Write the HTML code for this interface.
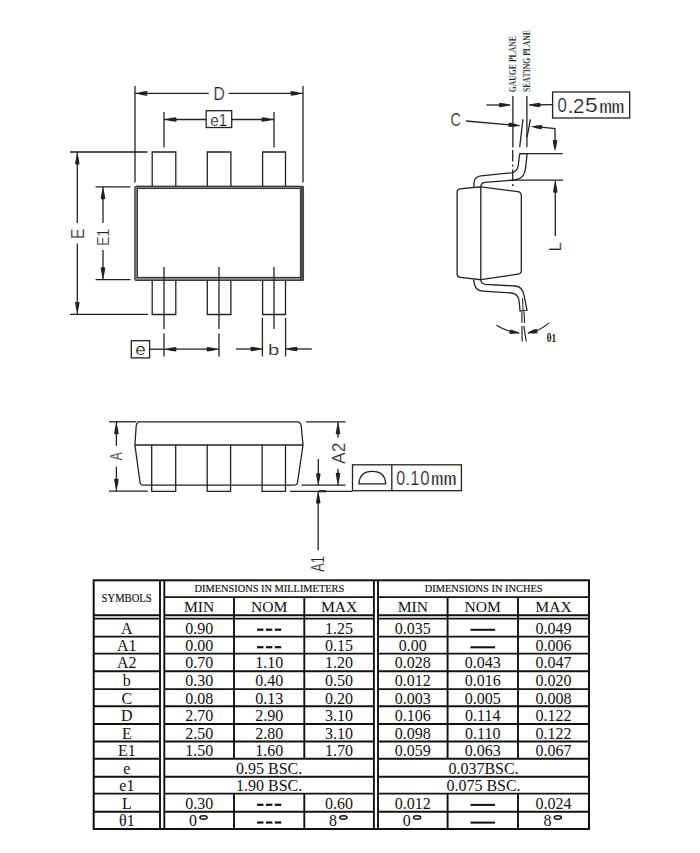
<!DOCTYPE html>
<html><head><meta charset="utf-8"><style>
html,body{margin:0;padding:0;background:#fff;width:700px;height:853px;overflow:hidden}
svg{display:block}
</style></head><body>
<svg width="700" height="853" viewBox="0 0 700 853">
<rect width="700" height="853" fill="#fff"/>
<path d="M136.2,185.8 H302.2 Q304.0,185.8 304.0,187.6 V279.2 Q304.0,281.0 302.2,281.0 H136.2 Q134.4,281.0 134.4,279.2 V187.6 Q134.4,185.8 136.2,185.8 Z M137.9,189.0 V276.9 H300.1 V189.0 Z" fill="#8c8c8c" fill-rule="evenodd"/>
<rect x="134.9" y="186.4" width="168.6" height="94.0" fill="none" stroke="#3a3a3a" stroke-width="1.1" rx="1.5"/>
<rect x="137.4" y="188.5" width="163.0" height="88.9" fill="none" stroke="#333" stroke-width="1.1" rx="0"/>
<rect x="300.0" y="186.4" width="3.9" height="94.0" fill="#484848"/>
<polyline points="152.2,186 152.2,152 175.8,152 175.8,186" fill="none" stroke="#222" stroke-width="1.3"/>
<polyline points="152.2,280.4 152.2,314.5 175.8,314.5 175.8,280.4" fill="none" stroke="#222" stroke-width="1.3"/>
<polyline points="207.3,186 207.3,152 230.9,152 230.9,186" fill="none" stroke="#222" stroke-width="1.3"/>
<polyline points="207.3,280.4 207.3,314.5 230.9,314.5 230.9,280.4" fill="none" stroke="#222" stroke-width="1.3"/>
<polyline points="262.6,186 262.6,152 285.5,152 285.5,186" fill="none" stroke="#222" stroke-width="1.3"/>
<polyline points="262.6,280.4 262.6,314.5 285.5,314.5 285.5,280.4" fill="none" stroke="#222" stroke-width="1.3"/>
<line x1="164" y1="267" x2="164" y2="329" stroke="#222" stroke-width="1.3" />
<line x1="219" y1="267" x2="219" y2="329" stroke="#222" stroke-width="1.3" />
<line x1="274" y1="267" x2="274" y2="329" stroke="#222" stroke-width="1.3" />
<line x1="164" y1="112" x2="164" y2="147.5" stroke="#222" stroke-width="1.3" />
<line x1="274" y1="112" x2="274" y2="147.5" stroke="#222" stroke-width="1.3" />
<line x1="164" y1="333.5" x2="164" y2="356.5" stroke="#222" stroke-width="1.3" />
<line x1="219" y1="333.5" x2="219" y2="356.5" stroke="#222" stroke-width="1.3" />
<line x1="135" y1="86" x2="135" y2="182.5" stroke="#222" stroke-width="1.3" />
<line x1="303" y1="86" x2="303" y2="182.5" stroke="#222" stroke-width="1.3" />
<line x1="135" y1="93.4" x2="208.8" y2="93.4" stroke="#222" stroke-width="1.3" />
<line x1="228.7" y1="93.4" x2="303" y2="93.4" stroke="#222" stroke-width="1.3" />
<path d="M136.00,93.40 Q141.40,91.68 147.04,91.10 Q148.24,93.40 147.04,95.70 Q141.40,95.12 136.00,93.40 Z" fill="#222"/>
<path d="M302.00,93.40 Q296.60,95.12 290.96,95.70 Q289.76,93.40 290.96,91.10 Q296.60,91.68 302.00,93.40 Z" fill="#222"/>
<text x="0" y="0" font-family="Liberation Sans" font-size="100.0" font-weight="normal" fill="#222" transform="matrix(0.15702,0,0,0.17442,213.412,99.600)" stroke="#fff" stroke-width="1.328" style="font-kerning:none">D</text>
<line x1="164" y1="119.5" x2="206.2" y2="119.5" stroke="#222" stroke-width="1.3" />
<line x1="231.7" y1="119.5" x2="274" y2="119.5" stroke="#222" stroke-width="1.3" />
<path d="M165.00,119.50 Q170.40,117.78 176.04,117.20 Q177.24,119.50 176.04,121.80 Q170.40,121.22 165.00,119.50 Z" fill="#222"/>
<path d="M273.00,119.50 Q267.60,121.22 261.96,121.80 Q260.76,119.50 261.96,117.20 Q267.60,117.78 273.00,119.50 Z" fill="#222"/>
<rect x="206.2" y="110.7" width="25.5" height="16.8" fill="none" stroke="#222" stroke-width="1.3" rx="0"/>
<text x="0" y="0" font-family="Liberation Sans" font-size="100.0" font-weight="normal" fill="#222" transform="matrix(0.15181,0,0,0.17198,210.255,125.532)" stroke="#fff" stroke-width="1.359" style="font-kerning:none">e1</text>
<line x1="70" y1="152" x2="147.5" y2="152" stroke="#222" stroke-width="1.3" />
<line x1="70" y1="314.3" x2="148" y2="314.3" stroke="#222" stroke-width="1.3" />
<line x1="77.3" y1="152" x2="77.3" y2="223" stroke="#222" stroke-width="1.3" />
<line x1="77.3" y1="243.5" x2="77.3" y2="314.3" stroke="#222" stroke-width="1.3" />
<path d="M77.30,153.00 Q79.02,158.40 79.60,164.04 Q77.30,165.24 75.00,164.04 Q75.58,158.40 77.30,153.00 Z" fill="#222"/>
<path d="M77.30,313.30 Q75.58,307.90 75.00,302.26 Q77.30,301.06 79.60,302.26 Q79.02,307.90 77.30,313.30 Z" fill="#222"/>
<text x="0" y="0" font-family="Liberation Sans" font-size="100.0" font-weight="normal" fill="#222" transform="matrix(0,-0.15867,0.18024,0,83.500,239.002)" stroke="#fff" stroke-width="1.298" style="font-kerning:none">E</text>
<line x1="95.6" y1="186.8" x2="130.4" y2="186.8" stroke="#222" stroke-width="1.3" />
<line x1="95.6" y1="279.7" x2="130.4" y2="279.7" stroke="#222" stroke-width="1.3" />
<line x1="103" y1="186.8" x2="103" y2="223" stroke="#222" stroke-width="1.3" />
<line x1="103" y1="250" x2="103" y2="279.7" stroke="#222" stroke-width="1.3" />
<path d="M103.00,187.80 Q104.72,193.20 105.30,198.84 Q103.00,200.04 100.70,198.84 Q101.28,193.20 103.00,187.80 Z" fill="#222"/>
<path d="M103.00,278.70 Q101.28,273.30 100.70,267.66 Q103.00,266.46 105.30,267.66 Q104.72,273.30 103.00,278.70 Z" fill="#222"/>
<text x="0" y="0" font-family="Liberation Sans" font-size="100.0" font-weight="normal" fill="#222" transform="matrix(0,-0.14099,0.17151,0,109.200,246.057)" stroke="#fff" stroke-width="1.408" style="font-kerning:none">E1</text>
<rect x="131.3" y="340.7" width="18.3" height="17.2" fill="none" stroke="#222" stroke-width="1.3" rx="0"/>
<text x="0" y="0" font-family="Liberation Sans" font-size="100.0" font-weight="normal" fill="#222" transform="matrix(0.18967,0,0,0.15698,135.294,354.847)" stroke="#fff" stroke-width="1.269" style="font-kerning:none">e</text>
<line x1="149.6" y1="349.2" x2="164" y2="349.2" stroke="#222" stroke-width="1.3" />
<line x1="164" y1="349.2" x2="219" y2="349.2" stroke="#222" stroke-width="1.3" />
<path d="M165.00,349.20 Q170.40,347.47 176.04,346.90 Q177.24,349.20 176.04,351.50 Q170.40,350.93 165.00,349.20 Z" fill="#222"/>
<path d="M218.00,349.20 Q212.60,350.93 206.96,351.50 Q205.76,349.20 206.96,346.90 Q212.60,347.47 218.00,349.20 Z" fill="#222"/>
<line x1="262.4" y1="318" x2="262.4" y2="356.4" stroke="#222" stroke-width="1.3" />
<line x1="285.6" y1="318" x2="285.6" y2="356.4" stroke="#222" stroke-width="1.3" />
<line x1="236" y1="349" x2="262" y2="349" stroke="#222" stroke-width="1.3" />
<line x1="286" y1="349" x2="311.8" y2="349" stroke="#222" stroke-width="1.3" />
<path d="M262.00,349.00 Q256.60,350.73 250.96,351.30 Q249.76,349.00 250.96,346.70 Q256.60,347.27 262.00,349.00 Z" fill="#222"/>
<path d="M286.00,349.00 Q291.40,347.27 297.04,346.70 Q298.24,349.00 297.04,351.30 Q291.40,350.73 286.00,349.00 Z" fill="#222"/>
<text x="0" y="0" font-family="Liberation Sans" font-size="100.0" font-weight="normal" fill="#222" transform="matrix(0.20235,0,0,0.14843,267.996,354.855)" stroke="#fff" stroke-width="1.254" style="font-kerning:none">b</text>
<text x="0" y="0" font-family="Liberation Serif" font-size="100.0" font-weight="bold" fill="#222" transform="matrix(0,-0.07702,0.09377,0,515.608,92.276)" stroke="#fff" stroke-width="1.405" style="font-kerning:none">GAUGE PLANE</text>
<text x="0" y="0" font-family="Liberation Serif" font-size="100.0" font-weight="bold" fill="#222" transform="matrix(0,-0.07616,0.09377,0,529.908,92.005)" stroke="#fff" stroke-width="1.412" style="font-kerning:none">SEATING PLANE</text>
<line x1="512.9" y1="96" x2="512.9" y2="147.5" stroke="#222" stroke-width="1.3" />
<line x1="512.7" y1="150" x2="512.7" y2="189" stroke="#222" stroke-width="1.3" stroke-dasharray="11.5 3 2 3"/>
<line x1="526.9" y1="96" x2="526.9" y2="147.3" stroke="#222" stroke-width="1.3" />
<line x1="486.4" y1="105" x2="510" y2="105" stroke="#222" stroke-width="1.3" />
<path d="M510.50,105.00 Q505.10,106.72 499.46,107.30 Q498.26,105.00 499.46,102.70 Q505.10,103.28 510.50,105.00 Z" fill="#222"/>
<line x1="529.3" y1="105" x2="552.6" y2="104.6" stroke="#222" stroke-width="1.3" />
<path d="M529.00,105.00 Q534.40,103.28 540.04,102.70 Q541.24,105.00 540.04,107.30 Q534.40,106.72 529.00,105.00 Z" fill="#222"/>
<rect x="552.6" y="92" width="77.1" height="26" fill="none" stroke="#222" stroke-width="1.3" rx="0"/>
<text x="0" y="0" font-family="Liberation Sans" font-size="100.0" font-weight="normal" fill="#222" transform="matrix(0.16735,0,0,0.20339,557.446,112.301)" stroke="#fff" stroke-width="1.187" style="font-kerning:none">0</text>
<text x="0" y="0" font-family="Liberation Sans" font-size="100.0" font-weight="normal" fill="#222" transform="matrix(0.22055,0,0,0.19638,567.386,112.500)" stroke="#fff" stroke-width="1.055" style="font-kerning:none">.</text>
<text x="0" y="0" font-family="Liberation Sans" font-size="100.0" font-weight="normal" fill="#222" transform="matrix(0.20414,0,0,0.20623,572.973,112.500)" stroke="#fff" stroke-width="1.072" style="font-kerning:none">2</text>
<text x="0" y="0" font-family="Liberation Sans" font-size="100.0" font-weight="normal" fill="#222" transform="matrix(0.22779,0,0,0.20638,584.988,112.298)" stroke="#fff" stroke-width="1.013" style="font-kerning:none">5</text>
<text x="0" y="0" font-family="Liberation Mono" font-size="100.0" font-weight="normal" fill="#222" transform="matrix(0.21579,0,0,0.18213,599.257,112.500)" stroke="#fff" stroke-width="0.905" style="font-kerning:none">m</text>
<text x="0" y="0" font-family="Liberation Mono" font-size="100.0" font-weight="normal" fill="#222" transform="matrix(0.21579,0,0,0.18213,611.557,112.500)" stroke="#fff" stroke-width="0.905" style="font-kerning:none">m</text>
<text x="0" y="0" font-family="Liberation Sans" font-size="100.0" font-weight="normal" fill="#222" transform="matrix(0.14369,0,0,0.17655,450.570,126.228)" stroke="#fff" stroke-width="1.374" style="font-kerning:none">C</text>
<line x1="466" y1="121" x2="519.5" y2="125.7" stroke="#222" stroke-width="1.3" />
<path d="M520.00,125.70 Q514.47,126.94 508.80,127.01 Q507.81,124.61 509.21,122.43 Q514.77,123.50 520.00,125.70 Z" fill="#222"/>
<line x1="522.9" y1="119.3" x2="519.7" y2="147.1" stroke="#222" stroke-width="1.3" />
<line x1="530.4" y1="119.3" x2="527.1" y2="137" stroke="#222" stroke-width="1.3" />
<polyline points="541,127.1 555,128.6 555,141" fill="none" stroke="#222" stroke-width="1.3"/>
<path d="M530.70,126.40 Q536.21,125.06 541.87,124.88 Q542.91,127.25 541.55,129.46 Q535.97,128.50 530.70,126.40 Z" fill="#222"/>
<path d="M555.00,151.40 Q553.27,146.00 552.70,140.36 Q555.00,139.16 557.30,140.36 Q556.73,146.00 555.00,151.40 Z" fill="#222"/>
<line x1="519.3" y1="153.6" x2="562.5" y2="153.6" stroke="#222" stroke-width="1.3" />
<line x1="514.3" y1="180.2" x2="563" y2="180.2" stroke="#222" stroke-width="1.3" />
<line x1="555.3" y1="181" x2="555.3" y2="236.1" stroke="#222" stroke-width="1.3" />
<path d="M555.30,181.20 Q557.02,186.60 557.60,192.24 Q555.30,193.44 553.00,192.24 Q553.57,186.60 555.30,181.20 Z" fill="#222"/>
<text x="0" y="0" font-family="Liberation Sans" font-size="100.0" font-weight="normal" fill="#222" transform="matrix(0,-0.17464,0.17006,0,561.000,251.533)" stroke="#fff" stroke-width="1.276" style="font-kerning:none">L</text>
<path d="M460,188.8 L480.8,186.8 L480.8,279.7 L460.2,277.3 Q457.1,277 457.1,274 L457.1,192 Q457.1,189.1 460,188.8" fill="none" stroke="#222" stroke-width="1.3"/>
<path d="M480.8,186.8 L518,191.6 Q521.3,192.3 521.3,195.5 L521.3,270.5 Q521.3,273.7 518,274.2 L480.8,279.7" fill="none" stroke="#222" stroke-width="1.3"/>
<path d="M473.8,187 L474.1,182 Q475,176.3 481,175.8 L511.5,172.8 Q517.5,172 518.3,165 L519.4,155.5 Q519.6,153.6 521,153.6 L527.1,153.6 L525.6,168 Q524.5,179.2 514.5,180 L485,182.3 Q480.8,182.8 480.8,186.8" fill="none" stroke="#222" stroke-width="1.3"/>
<path d="M473.6,279.7 L474.5,284.5 Q476.2,290.8 483,291.2 L511.5,293 Q518.8,293.8 519.3,302.5 L520,311.1 L527,310.3 L524.2,296 Q522.8,286.5 515,286 L486,284.4 Q481,284 480.8,279.7" fill="none" stroke="#222" stroke-width="1.3"/>
<line x1="522.6" y1="298" x2="523.0" y2="311" stroke="#222" stroke-width="1.0" />
<line x1="521.8" y1="311.5" x2="522.0" y2="323" stroke="#222" stroke-width="1.1" />
<line x1="524.0" y1="311.5" x2="524.6" y2="323" stroke="#222" stroke-width="1.1" />
<line x1="521.9" y1="326" x2="522.2" y2="341.5" stroke="#222" stroke-width="1.2" />
<line x1="523.9" y1="326" x2="526.2" y2="341.5" stroke="#222" stroke-width="1.2" />
<path d="M496.4,325.3 Q506,331.5 519,333.1" fill="none" stroke="#222" stroke-width="1.2"/>
<path d="M520.00,333.10 Q514.87,334.05 509.67,333.87 Q508.89,331.54 510.28,329.51 Q515.33,330.78 520.00,333.10 Z" fill="#222"/>
<path d="M549,322.9 Q540,331 528,333.1" fill="none" stroke="#222" stroke-width="1.2"/>
<path d="M527.00,333.10 Q531.50,330.46 536.44,328.84 Q537.97,330.77 537.36,333.15 Q532.18,333.68 527.00,333.10 Z" fill="#222"/>
<text x="0" y="0" font-family="Liberation Serif" font-size="100.0" font-weight="bold" fill="#222" transform="matrix(0.09368,0,0,0.11425,546.711,341.688)" style="font-kerning:none">θ1</text>
<path d="M138.5,421.8 L297.5,421.8 Q300.8,421.8 301.2,426 L303,445 L297.6,482 Q297.2,485.2 294,485.2 L143.5,485.2 Q140.3,485.2 140,482 L134.9,445 L136.2,426 Q136.8,421.8 138.5,421.8 Z" fill="none" stroke="#222" stroke-width="1.3"/>
<line x1="134.9" y1="445" x2="303" y2="445" stroke="#222" stroke-width="1.3" />
<polyline points="151.7,445 151.7,491.4 175.7,491.4 175.7,445" fill="none" stroke="#222" stroke-width="1.3"/>
<polyline points="207.2,445 207.2,491.4 230.6,491.4 230.6,445" fill="none" stroke="#222" stroke-width="1.3"/>
<polyline points="262.1,445 262.1,491.4 285.5,491.4 285.5,445" fill="none" stroke="#222" stroke-width="1.3"/>
<line x1="109" y1="421.8" x2="135.9" y2="421.8" stroke="#222" stroke-width="1.3" />
<line x1="109" y1="491.2" x2="147.8" y2="491.2" stroke="#222" stroke-width="1.3" />
<line x1="116.4" y1="421.8" x2="116.4" y2="445.9" stroke="#222" stroke-width="1.3" />
<line x1="116.4" y1="466.8" x2="116.4" y2="491.2" stroke="#222" stroke-width="1.3" />
<path d="M116.40,422.80 Q118.12,428.20 118.70,433.84 Q116.40,435.04 114.10,433.84 Q114.68,428.20 116.40,422.80 Z" fill="#222"/>
<path d="M116.40,490.20 Q114.68,484.80 114.10,479.16 Q116.40,477.96 118.70,479.16 Q118.12,484.80 116.40,490.20 Z" fill="#222"/>
<text x="0" y="0" font-family="Liberation Sans" font-size="100.0" font-weight="normal" fill="#222" transform="matrix(0,-0.11914,0.15843,0,121.900,460.323)" stroke="#fff" stroke-width="1.585" style="font-kerning:none">A</text>
<line x1="306" y1="421.8" x2="345.5" y2="421.8" stroke="#222" stroke-width="1.3" />
<line x1="301.5" y1="485.2" x2="345.5" y2="485.2" stroke="#222" stroke-width="1.3" />
<line x1="290" y1="491.3" x2="352.5" y2="491.3" stroke="#222" stroke-width="1.3" />
<line x1="319" y1="491.2" x2="326" y2="491.2" stroke="#222" stroke-width="2.2" />
<line x1="338" y1="421.8" x2="338" y2="437.5" stroke="#222" stroke-width="1.3" />
<line x1="338" y1="469" x2="338" y2="485.2" stroke="#222" stroke-width="1.3" />
<path d="M338.00,422.80 Q339.73,428.20 340.30,433.84 Q338.00,435.04 335.70,433.84 Q336.27,428.20 338.00,422.80 Z" fill="#222"/>
<path d="M338.00,484.20 Q336.27,478.80 335.70,473.16 Q338.00,471.96 340.30,473.16 Q339.73,478.80 338.00,484.20 Z" fill="#222"/>
<text x="0" y="0" font-family="Liberation Sans" font-size="100.0" font-weight="normal" fill="#222" transform="matrix(0,-0.17508,0.17902,0,345.000,464.034)" stroke="#fff" stroke-width="1.243" style="font-kerning:none">A2</text>
<line x1="318.3" y1="459" x2="318.3" y2="485.2" stroke="#222" stroke-width="1.3" />
<path d="M318.30,484.70 Q316.57,479.30 316.00,473.66 Q318.30,472.46 320.60,473.66 Q320.03,479.30 318.30,484.70 Z" fill="#222"/>
<line x1="318.2" y1="491.5" x2="318.2" y2="550.2" stroke="#222" stroke-width="1.3" />
<path d="M318.20,492.00 Q319.93,497.40 320.50,503.04 Q318.20,504.24 315.90,503.04 Q316.47,497.40 318.20,492.00 Z" fill="#222"/>
<text x="0" y="0" font-family="Liberation Sans" font-size="100.0" font-weight="normal" fill="#222" transform="matrix(0,-0.12709,0.17442,0,324.000,571.625)" stroke="#fff" stroke-width="1.459" style="font-kerning:none">A1</text>
<rect x="352.5" y="464.8" width="108.9" height="25.9" fill="none" stroke="#222" stroke-width="1.3" rx="0"/>
<line x1="391.8" y1="464.8" x2="391.8" y2="490.7" stroke="#222" stroke-width="1.3" />
<path d="M358.9,483.9 L385.7,483.9 Q385,471.4 372.3,471.4 Q359.6,471.4 358.9,483.9 Z" fill="none" stroke="#222" stroke-width="1.3"/>
<text x="0" y="0" font-family="Liberation Sans" font-size="100.0" font-weight="normal" fill="#222" transform="matrix(0.16108,0,0,0.19774,396.171,484.807)" stroke="#fff" stroke-width="1.226" style="font-kerning:none">0</text>
<text x="0" y="0" font-family="Liberation Sans" font-size="100.0" font-weight="normal" fill="#222" transform="matrix(0.17854,0,0,0.18703,405.370,485.000)" stroke="#fff" stroke-width="1.204" style="font-kerning:none">.</text>
<text x="0" y="0" font-family="Liberation Sans" font-size="100.0" font-weight="normal" fill="#222" transform="matrix(0.16236,0,0,0.20349,410.263,485.000)" stroke="#fff" stroke-width="1.203" style="font-kerning:none">1</text>
<text x="0" y="0" font-family="Liberation Sans" font-size="100.0" font-weight="normal" fill="#222" transform="matrix(0.16735,0,0,0.19774,420.346,484.807)" stroke="#fff" stroke-width="1.205" style="font-kerning:none">0</text>
<text x="0" y="0" font-family="Liberation Mono" font-size="100.0" font-weight="normal" fill="#222" transform="matrix(0.20980,0,0,0.17655,430.986,485.000)" stroke="#fff" stroke-width="0.932" style="font-kerning:none">m</text>
<text x="0" y="0" font-family="Liberation Mono" font-size="100.0" font-weight="normal" fill="#222" transform="matrix(0.21979,0,0,0.17655,443.438,485.000)" stroke="#fff" stroke-width="0.908" style="font-kerning:none">m</text>
<rect x="93.7" y="580.3" width="495.3" height="248.70000000000005" fill="none" stroke="#111" stroke-width="2" rx="0"/>
<line x1="160.0" y1="580.3" x2="160.0" y2="829" stroke="#111" stroke-width="1.9" />
<line x1="164.3" y1="580.3" x2="164.3" y2="829" stroke="#111" stroke-width="1.9" />
<line x1="373.9" y1="580.3" x2="373.9" y2="829" stroke="#111" stroke-width="1.9" />
<line x1="378.0" y1="580.3" x2="378.0" y2="829" stroke="#111" stroke-width="1.9" />
<line x1="164.3" y1="597.1" x2="373.9" y2="597.1" stroke="#111" stroke-width="1.9" />
<line x1="378.0" y1="597.1" x2="589" y2="597.1" stroke="#111" stroke-width="1.9" />
<line x1="93.7" y1="615.2" x2="160.0" y2="615.2" stroke="#111" stroke-width="1.9" />
<line x1="164.3" y1="615.2" x2="373.9" y2="615.2" stroke="#111" stroke-width="1.9" />
<line x1="378.0" y1="615.2" x2="589" y2="615.2" stroke="#111" stroke-width="1.9" />
<line x1="93.7" y1="618.6" x2="160.0" y2="618.6" stroke="#111" stroke-width="1.9" />
<line x1="164.3" y1="618.6" x2="373.9" y2="618.6" stroke="#111" stroke-width="1.9" />
<line x1="378.0" y1="618.6" x2="589" y2="618.6" stroke="#111" stroke-width="1.9" />
<line x1="234.0" y1="597.1" x2="234.0" y2="618.6" stroke="#111" stroke-width="1.9" />
<line x1="304.3" y1="597.1" x2="304.3" y2="618.6" stroke="#111" stroke-width="1.9" />
<line x1="447.6" y1="597.1" x2="447.6" y2="618.6" stroke="#111" stroke-width="1.9" />
<line x1="518.0" y1="597.1" x2="518.0" y2="618.6" stroke="#111" stroke-width="1.9" />
<line x1="234.0" y1="618.6" x2="234.0" y2="636.6" stroke="#111" stroke-width="1.9" />
<line x1="304.3" y1="618.6" x2="304.3" y2="636.6" stroke="#111" stroke-width="1.9" />
<line x1="447.6" y1="618.6" x2="447.6" y2="636.6" stroke="#111" stroke-width="1.9" />
<line x1="518.0" y1="618.6" x2="518.0" y2="636.6" stroke="#111" stroke-width="1.9" />
<text x="126.85" y="633.5" font-family="Liberation Serif" font-size="16" text-anchor="middle" font-weight="normal" fill="#111" >A</text>
<text x="199.15" y="633.5" font-family="Liberation Serif" font-size="16" text-anchor="middle" font-weight="normal" fill="#111" >0.90</text>
<line x1="257.05" y1="629.7" x2="263.45" y2="629.7" stroke="#111" stroke-width="2.2" />
<line x1="265.95" y1="629.7" x2="272.34999999999997" y2="629.7" stroke="#111" stroke-width="2.2" />
<line x1="274.84999999999997" y1="629.7" x2="281.24999999999994" y2="629.7" stroke="#111" stroke-width="2.2" />
<text x="339.1" y="633.5" font-family="Liberation Serif" font-size="16" text-anchor="middle" font-weight="normal" fill="#111" >1.25</text>
<text x="412.8" y="633.5" font-family="Liberation Serif" font-size="16" text-anchor="middle" font-weight="normal" fill="#111" >0.035</text>
<line x1="470.5" y1="629.8" x2="495.1" y2="629.8" stroke="#111" stroke-width="2.0" />
<text x="553.5" y="633.5" font-family="Liberation Serif" font-size="16" text-anchor="middle" font-weight="normal" fill="#111" >0.049</text>
<line x1="93.7" y1="636.6" x2="160.0" y2="636.6" stroke="#111" stroke-width="1.9" />
<line x1="164.3" y1="636.6" x2="373.9" y2="636.6" stroke="#111" stroke-width="1.9" />
<line x1="378.0" y1="636.6" x2="589" y2="636.6" stroke="#111" stroke-width="1.9" />
<line x1="234.0" y1="636.6" x2="234.0" y2="653.6" stroke="#111" stroke-width="1.9" />
<line x1="304.3" y1="636.6" x2="304.3" y2="653.6" stroke="#111" stroke-width="1.9" />
<line x1="447.6" y1="636.6" x2="447.6" y2="653.6" stroke="#111" stroke-width="1.9" />
<line x1="518.0" y1="636.6" x2="518.0" y2="653.6" stroke="#111" stroke-width="1.9" />
<text x="126.85" y="651.0" font-family="Liberation Serif" font-size="16" text-anchor="middle" font-weight="normal" fill="#111" >A1</text>
<text x="199.15" y="651.0" font-family="Liberation Serif" font-size="16" text-anchor="middle" font-weight="normal" fill="#111" >0.00</text>
<line x1="257.05" y1="647.2" x2="263.45" y2="647.2" stroke="#111" stroke-width="2.2" />
<line x1="265.95" y1="647.2" x2="272.34999999999997" y2="647.2" stroke="#111" stroke-width="2.2" />
<line x1="274.84999999999997" y1="647.2" x2="281.24999999999994" y2="647.2" stroke="#111" stroke-width="2.2" />
<text x="339.1" y="651.0" font-family="Liberation Serif" font-size="16" text-anchor="middle" font-weight="normal" fill="#111" >0.15</text>
<text x="412.8" y="651.0" font-family="Liberation Serif" font-size="16" text-anchor="middle" font-weight="normal" fill="#111" >0.00</text>
<line x1="470.5" y1="647.3" x2="495.1" y2="647.3" stroke="#111" stroke-width="2.0" />
<text x="553.5" y="651.0" font-family="Liberation Serif" font-size="16" text-anchor="middle" font-weight="normal" fill="#111" >0.006</text>
<line x1="93.7" y1="653.6" x2="160.0" y2="653.6" stroke="#111" stroke-width="1.9" />
<line x1="164.3" y1="653.6" x2="373.9" y2="653.6" stroke="#111" stroke-width="1.9" />
<line x1="378.0" y1="653.6" x2="589" y2="653.6" stroke="#111" stroke-width="1.9" />
<line x1="234.0" y1="653.6" x2="234.0" y2="671.2" stroke="#111" stroke-width="1.9" />
<line x1="304.3" y1="653.6" x2="304.3" y2="671.2" stroke="#111" stroke-width="1.9" />
<line x1="447.6" y1="653.6" x2="447.6" y2="671.2" stroke="#111" stroke-width="1.9" />
<line x1="518.0" y1="653.6" x2="518.0" y2="671.2" stroke="#111" stroke-width="1.9" />
<text x="126.85" y="668.3000000000001" font-family="Liberation Serif" font-size="16" text-anchor="middle" font-weight="normal" fill="#111" >A2</text>
<text x="199.15" y="668.3000000000001" font-family="Liberation Serif" font-size="16" text-anchor="middle" font-weight="normal" fill="#111" >0.70</text>
<text x="269.15" y="668.3000000000001" font-family="Liberation Serif" font-size="16" text-anchor="middle" font-weight="normal" fill="#111" >1.10</text>
<text x="339.1" y="668.3000000000001" font-family="Liberation Serif" font-size="16" text-anchor="middle" font-weight="normal" fill="#111" >1.20</text>
<text x="412.8" y="668.3000000000001" font-family="Liberation Serif" font-size="16" text-anchor="middle" font-weight="normal" fill="#111" >0.028</text>
<text x="482.8" y="668.3000000000001" font-family="Liberation Serif" font-size="16" text-anchor="middle" font-weight="normal" fill="#111" >0.043</text>
<text x="553.5" y="668.3000000000001" font-family="Liberation Serif" font-size="16" text-anchor="middle" font-weight="normal" fill="#111" >0.047</text>
<line x1="93.7" y1="671.2" x2="160.0" y2="671.2" stroke="#111" stroke-width="1.9" />
<line x1="164.3" y1="671.2" x2="373.9" y2="671.2" stroke="#111" stroke-width="1.9" />
<line x1="378.0" y1="671.2" x2="589" y2="671.2" stroke="#111" stroke-width="1.9" />
<line x1="234.0" y1="671.2" x2="234.0" y2="689.1" stroke="#111" stroke-width="1.9" />
<line x1="304.3" y1="671.2" x2="304.3" y2="689.1" stroke="#111" stroke-width="1.9" />
<line x1="447.6" y1="671.2" x2="447.6" y2="689.1" stroke="#111" stroke-width="1.9" />
<line x1="518.0" y1="671.2" x2="518.0" y2="689.1" stroke="#111" stroke-width="1.9" />
<text x="126.85" y="686.0500000000001" font-family="Liberation Serif" font-size="16" text-anchor="middle" font-weight="normal" fill="#111" >b</text>
<text x="199.15" y="686.0500000000001" font-family="Liberation Serif" font-size="16" text-anchor="middle" font-weight="normal" fill="#111" >0.30</text>
<text x="269.15" y="686.0500000000001" font-family="Liberation Serif" font-size="16" text-anchor="middle" font-weight="normal" fill="#111" >0.40</text>
<text x="339.1" y="686.0500000000001" font-family="Liberation Serif" font-size="16" text-anchor="middle" font-weight="normal" fill="#111" >0.50</text>
<text x="412.8" y="686.0500000000001" font-family="Liberation Serif" font-size="16" text-anchor="middle" font-weight="normal" fill="#111" >0.012</text>
<text x="482.8" y="686.0500000000001" font-family="Liberation Serif" font-size="16" text-anchor="middle" font-weight="normal" fill="#111" >0.016</text>
<text x="553.5" y="686.0500000000001" font-family="Liberation Serif" font-size="16" text-anchor="middle" font-weight="normal" fill="#111" >0.020</text>
<line x1="93.7" y1="689.1" x2="160.0" y2="689.1" stroke="#111" stroke-width="1.9" />
<line x1="164.3" y1="689.1" x2="373.9" y2="689.1" stroke="#111" stroke-width="1.9" />
<line x1="378.0" y1="689.1" x2="589" y2="689.1" stroke="#111" stroke-width="1.9" />
<line x1="234.0" y1="689.1" x2="234.0" y2="706.3" stroke="#111" stroke-width="1.9" />
<line x1="304.3" y1="689.1" x2="304.3" y2="706.3" stroke="#111" stroke-width="1.9" />
<line x1="447.6" y1="689.1" x2="447.6" y2="706.3" stroke="#111" stroke-width="1.9" />
<line x1="518.0" y1="689.1" x2="518.0" y2="706.3" stroke="#111" stroke-width="1.9" />
<text x="126.85" y="703.6" font-family="Liberation Serif" font-size="16" text-anchor="middle" font-weight="normal" fill="#111" >C</text>
<text x="199.15" y="703.6" font-family="Liberation Serif" font-size="16" text-anchor="middle" font-weight="normal" fill="#111" >0.08</text>
<text x="269.15" y="703.6" font-family="Liberation Serif" font-size="16" text-anchor="middle" font-weight="normal" fill="#111" >0.13</text>
<text x="339.1" y="703.6" font-family="Liberation Serif" font-size="16" text-anchor="middle" font-weight="normal" fill="#111" >0.20</text>
<text x="412.8" y="703.6" font-family="Liberation Serif" font-size="16" text-anchor="middle" font-weight="normal" fill="#111" >0.003</text>
<text x="482.8" y="703.6" font-family="Liberation Serif" font-size="16" text-anchor="middle" font-weight="normal" fill="#111" >0.005</text>
<text x="553.5" y="703.6" font-family="Liberation Serif" font-size="16" text-anchor="middle" font-weight="normal" fill="#111" >0.008</text>
<line x1="93.7" y1="706.3" x2="160.0" y2="706.3" stroke="#111" stroke-width="1.9" />
<line x1="164.3" y1="706.3" x2="373.9" y2="706.3" stroke="#111" stroke-width="1.9" />
<line x1="378.0" y1="706.3" x2="589" y2="706.3" stroke="#111" stroke-width="1.9" />
<line x1="234.0" y1="706.3" x2="234.0" y2="724.0" stroke="#111" stroke-width="1.9" />
<line x1="304.3" y1="706.3" x2="304.3" y2="724.0" stroke="#111" stroke-width="1.9" />
<line x1="447.6" y1="706.3" x2="447.6" y2="724.0" stroke="#111" stroke-width="1.9" />
<line x1="518.0" y1="706.3" x2="518.0" y2="724.0" stroke="#111" stroke-width="1.9" />
<text x="126.85" y="721.05" font-family="Liberation Serif" font-size="16" text-anchor="middle" font-weight="normal" fill="#111" >D</text>
<text x="199.15" y="721.05" font-family="Liberation Serif" font-size="16" text-anchor="middle" font-weight="normal" fill="#111" >2.70</text>
<text x="269.15" y="721.05" font-family="Liberation Serif" font-size="16" text-anchor="middle" font-weight="normal" fill="#111" >2.90</text>
<text x="339.1" y="721.05" font-family="Liberation Serif" font-size="16" text-anchor="middle" font-weight="normal" fill="#111" >3.10</text>
<text x="412.8" y="721.05" font-family="Liberation Serif" font-size="16" text-anchor="middle" font-weight="normal" fill="#111" >0.106</text>
<text x="482.8" y="721.05" font-family="Liberation Serif" font-size="16" text-anchor="middle" font-weight="normal" fill="#111" >0.114</text>
<text x="553.5" y="721.05" font-family="Liberation Serif" font-size="16" text-anchor="middle" font-weight="normal" fill="#111" >0.122</text>
<line x1="93.7" y1="724.0" x2="160.0" y2="724.0" stroke="#111" stroke-width="1.9" />
<line x1="164.3" y1="724.0" x2="373.9" y2="724.0" stroke="#111" stroke-width="1.9" />
<line x1="378.0" y1="724.0" x2="589" y2="724.0" stroke="#111" stroke-width="1.9" />
<line x1="234.0" y1="724.0" x2="234.0" y2="741.5" stroke="#111" stroke-width="1.9" />
<line x1="304.3" y1="724.0" x2="304.3" y2="741.5" stroke="#111" stroke-width="1.9" />
<line x1="447.6" y1="724.0" x2="447.6" y2="741.5" stroke="#111" stroke-width="1.9" />
<line x1="518.0" y1="724.0" x2="518.0" y2="741.5" stroke="#111" stroke-width="1.9" />
<text x="126.85" y="738.65" font-family="Liberation Serif" font-size="16" text-anchor="middle" font-weight="normal" fill="#111" >E</text>
<text x="199.15" y="738.65" font-family="Liberation Serif" font-size="16" text-anchor="middle" font-weight="normal" fill="#111" >2.50</text>
<text x="269.15" y="738.65" font-family="Liberation Serif" font-size="16" text-anchor="middle" font-weight="normal" fill="#111" >2.80</text>
<text x="339.1" y="738.65" font-family="Liberation Serif" font-size="16" text-anchor="middle" font-weight="normal" fill="#111" >3.10</text>
<text x="412.8" y="738.65" font-family="Liberation Serif" font-size="16" text-anchor="middle" font-weight="normal" fill="#111" >0.098</text>
<text x="482.8" y="738.65" font-family="Liberation Serif" font-size="16" text-anchor="middle" font-weight="normal" fill="#111" >0.110</text>
<text x="553.5" y="738.65" font-family="Liberation Serif" font-size="16" text-anchor="middle" font-weight="normal" fill="#111" >0.122</text>
<line x1="93.7" y1="741.5" x2="160.0" y2="741.5" stroke="#111" stroke-width="1.9" />
<line x1="164.3" y1="741.5" x2="373.9" y2="741.5" stroke="#111" stroke-width="1.9" />
<line x1="378.0" y1="741.5" x2="589" y2="741.5" stroke="#111" stroke-width="1.9" />
<line x1="234.0" y1="741.5" x2="234.0" y2="758.7" stroke="#111" stroke-width="1.9" />
<line x1="304.3" y1="741.5" x2="304.3" y2="758.7" stroke="#111" stroke-width="1.9" />
<line x1="447.6" y1="741.5" x2="447.6" y2="758.7" stroke="#111" stroke-width="1.9" />
<line x1="518.0" y1="741.5" x2="518.0" y2="758.7" stroke="#111" stroke-width="1.9" />
<text x="126.85" y="756.0" font-family="Liberation Serif" font-size="16" text-anchor="middle" font-weight="normal" fill="#111" >E1</text>
<text x="199.15" y="756.0" font-family="Liberation Serif" font-size="16" text-anchor="middle" font-weight="normal" fill="#111" >1.50</text>
<text x="269.15" y="756.0" font-family="Liberation Serif" font-size="16" text-anchor="middle" font-weight="normal" fill="#111" >1.60</text>
<text x="339.1" y="756.0" font-family="Liberation Serif" font-size="16" text-anchor="middle" font-weight="normal" fill="#111" >1.70</text>
<text x="412.8" y="756.0" font-family="Liberation Serif" font-size="16" text-anchor="middle" font-weight="normal" fill="#111" >0.059</text>
<text x="482.8" y="756.0" font-family="Liberation Serif" font-size="16" text-anchor="middle" font-weight="normal" fill="#111" >0.063</text>
<text x="553.5" y="756.0" font-family="Liberation Serif" font-size="16" text-anchor="middle" font-weight="normal" fill="#111" >0.067</text>
<line x1="93.7" y1="758.7" x2="160.0" y2="758.7" stroke="#111" stroke-width="1.9" />
<line x1="164.3" y1="758.7" x2="373.9" y2="758.7" stroke="#111" stroke-width="1.9" />
<line x1="378.0" y1="758.7" x2="589" y2="758.7" stroke="#111" stroke-width="1.9" />
<text x="126.85" y="773.65" font-family="Liberation Serif" font-size="16" text-anchor="middle" font-weight="normal" fill="#111" >e</text>
<text x="269.1" y="773.65" font-family="Liberation Serif" font-size="16" text-anchor="middle" font-weight="normal" fill="#111" >0.95 BSC.</text>
<text x="483.5" y="773.65" font-family="Liberation Serif" font-size="16" text-anchor="middle" font-weight="normal" fill="#111" >0.037BSC.</text>
<line x1="93.7" y1="776.8" x2="160.0" y2="776.8" stroke="#111" stroke-width="1.9" />
<line x1="164.3" y1="776.8" x2="373.9" y2="776.8" stroke="#111" stroke-width="1.9" />
<line x1="378.0" y1="776.8" x2="589" y2="776.8" stroke="#111" stroke-width="1.9" />
<text x="126.85" y="791.1" font-family="Liberation Serif" font-size="16" text-anchor="middle" font-weight="normal" fill="#111" >e1</text>
<text x="269.1" y="791.1" font-family="Liberation Serif" font-size="16" text-anchor="middle" font-weight="normal" fill="#111" >1.90 BSC.</text>
<text x="483.5" y="791.1" font-family="Liberation Serif" font-size="16" text-anchor="middle" font-weight="normal" fill="#111" >0.075 BSC.</text>
<line x1="93.7" y1="793.6" x2="160.0" y2="793.6" stroke="#111" stroke-width="1.9" />
<line x1="164.3" y1="793.6" x2="373.9" y2="793.6" stroke="#111" stroke-width="1.9" />
<line x1="378.0" y1="793.6" x2="589" y2="793.6" stroke="#111" stroke-width="1.9" />
<line x1="234.0" y1="793.6" x2="234.0" y2="811.8" stroke="#111" stroke-width="1.9" />
<line x1="304.3" y1="793.6" x2="304.3" y2="811.8" stroke="#111" stroke-width="1.9" />
<line x1="447.6" y1="793.6" x2="447.6" y2="811.8" stroke="#111" stroke-width="1.9" />
<line x1="518.0" y1="793.6" x2="518.0" y2="811.8" stroke="#111" stroke-width="1.9" />
<text x="126.85" y="808.6" font-family="Liberation Serif" font-size="16" text-anchor="middle" font-weight="normal" fill="#111" >L</text>
<text x="199.15" y="808.6" font-family="Liberation Serif" font-size="16" text-anchor="middle" font-weight="normal" fill="#111" >0.30</text>
<line x1="257.05" y1="804.8000000000001" x2="263.45" y2="804.8000000000001" stroke="#111" stroke-width="2.2" />
<line x1="265.95" y1="804.8000000000001" x2="272.34999999999997" y2="804.8000000000001" stroke="#111" stroke-width="2.2" />
<line x1="274.84999999999997" y1="804.8000000000001" x2="281.24999999999994" y2="804.8000000000001" stroke="#111" stroke-width="2.2" />
<text x="339.1" y="808.6" font-family="Liberation Serif" font-size="16" text-anchor="middle" font-weight="normal" fill="#111" >0.60</text>
<text x="412.8" y="808.6" font-family="Liberation Serif" font-size="16" text-anchor="middle" font-weight="normal" fill="#111" >0.012</text>
<line x1="470.5" y1="804.9" x2="495.1" y2="804.9" stroke="#111" stroke-width="2.0" />
<text x="553.5" y="808.6" font-family="Liberation Serif" font-size="16" text-anchor="middle" font-weight="normal" fill="#111" >0.024</text>
<line x1="93.7" y1="811.8" x2="160.0" y2="811.8" stroke="#111" stroke-width="1.9" />
<line x1="164.3" y1="811.8" x2="373.9" y2="811.8" stroke="#111" stroke-width="1.9" />
<line x1="378.0" y1="811.8" x2="589" y2="811.8" stroke="#111" stroke-width="1.9" />
<line x1="234.0" y1="811.8" x2="234.0" y2="829.0" stroke="#111" stroke-width="1.9" />
<line x1="304.3" y1="811.8" x2="304.3" y2="829.0" stroke="#111" stroke-width="1.9" />
<line x1="447.6" y1="811.8" x2="447.6" y2="829.0" stroke="#111" stroke-width="1.9" />
<line x1="518.0" y1="811.8" x2="518.0" y2="829.0" stroke="#111" stroke-width="1.9" />
<text x="126.85" y="826.3" font-family="Liberation Serif" font-size="16" text-anchor="middle" font-weight="normal" fill="#111" >θ1</text>
<text x="193.05" y="826.3" font-family="Liberation Serif" font-size="16" text-anchor="middle" font-weight="normal" fill="#111" >0</text>
<ellipse cx="203.5" cy="817.5" rx="3.6" ry="1.7" fill="none" stroke="#111" stroke-width="1.5"/>
<line x1="257.05" y1="822.5" x2="263.45" y2="822.5" stroke="#111" stroke-width="2.2" />
<line x1="265.95" y1="822.5" x2="272.34999999999997" y2="822.5" stroke="#111" stroke-width="2.2" />
<line x1="274.84999999999997" y1="822.5" x2="281.24999999999994" y2="822.5" stroke="#111" stroke-width="2.2" />
<text x="333.0" y="826.3" font-family="Liberation Serif" font-size="16" text-anchor="middle" font-weight="normal" fill="#111" >8</text>
<ellipse cx="343.4" cy="817.5" rx="3.6" ry="1.7" fill="none" stroke="#111" stroke-width="1.5"/>
<text x="406.7" y="826.3" font-family="Liberation Serif" font-size="16" text-anchor="middle" font-weight="normal" fill="#111" >0</text>
<ellipse cx="417.1" cy="817.5" rx="3.6" ry="1.7" fill="none" stroke="#111" stroke-width="1.5"/>
<line x1="470.5" y1="822.5999999999999" x2="495.1" y2="822.5999999999999" stroke="#111" stroke-width="2.0" />
<text x="547.4" y="826.3" font-family="Liberation Serif" font-size="16" text-anchor="middle" font-weight="normal" fill="#111" >8</text>
<ellipse cx="557.8" cy="817.5" rx="3.6" ry="1.7" fill="none" stroke="#111" stroke-width="1.5"/>
<text x="0" y="0" font-family="Liberation Serif" font-size="100.0" font-weight="normal" fill="#111" transform="matrix(0.10621,0,0,0.12056,101.590,601.582)" stroke="#111" stroke-width="1.323" style="font-kerning:none">SYMBOLS</text>
<text x="0" y="0" font-family="Liberation Serif" font-size="100.0" font-weight="normal" fill="#111" transform="matrix(0.10367,0,0,0.10865,194.601,592.294)" stroke="#111" stroke-width="1.413" style="font-kerning:none">DIMENSIONS IN MILLIMETERS</text>
<text x="0" y="0" font-family="Liberation Serif" font-size="100.0" font-weight="normal" fill="#111" transform="matrix(0.10398,0,0,0.10865,424.800,592.294)" stroke="#111" stroke-width="1.411" style="font-kerning:none">DIMENSIONS IN INCHES</text>
<text x="199.15" y="612.0" font-family="Liberation Serif" font-size="15.6" text-anchor="middle" font-weight="normal" fill="#111" >MIN</text>
<text x="269.15" y="612.0" font-family="Liberation Serif" font-size="15.6" text-anchor="middle" font-weight="normal" fill="#111" >NOM</text>
<text x="339.1" y="612.0" font-family="Liberation Serif" font-size="15.6" text-anchor="middle" font-weight="normal" fill="#111" >MAX</text>
<text x="412.8" y="612.0" font-family="Liberation Serif" font-size="15.6" text-anchor="middle" font-weight="normal" fill="#111" >MIN</text>
<text x="482.8" y="612.0" font-family="Liberation Serif" font-size="15.6" text-anchor="middle" font-weight="normal" fill="#111" >NOM</text>
<text x="553.5" y="612.0" font-family="Liberation Serif" font-size="15.6" text-anchor="middle" font-weight="normal" fill="#111" >MAX</text>
</svg></body></html>
